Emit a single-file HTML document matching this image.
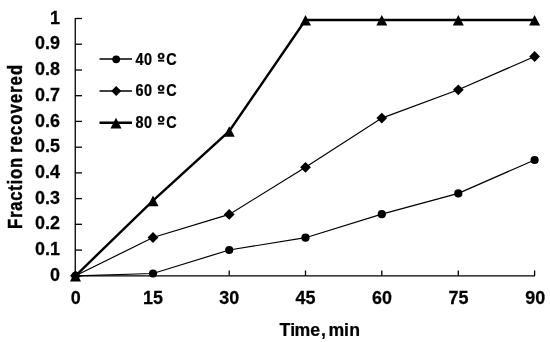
<!DOCTYPE html>
<html><head><meta charset="utf-8"><title>Fraction recovered vs time</title>
<style>
html,body{margin:0;padding:0;background:#fff;}
svg{display:block;}
text{font-family:"Liberation Sans",sans-serif;font-weight:bold;fill:#000;stroke:#000;stroke-width:0.25px;}
.tk{font-size:18.85px;}
.ti{font-size:19px;}
.lg{font-size:16px;}
</style></head><body>
<svg width="550" height="342" viewBox="0 0 550 342">
<rect width="550" height="342" fill="#fff"/>
<g stroke="#000" stroke-width="1.3" fill="none" shape-rendering="auto">
<path d="M75.25 18.0V275.8H535"/>
<path d="M75.25 18.5H82"/>
<path d="M75.25 44.2H82"/>
<path d="M75.25 70.0H82"/>
<path d="M75.25 95.7H82"/>
<path d="M75.25 121.4H82"/>
<path d="M75.25 147.2H82"/>
<path d="M75.25 172.9H82"/>
<path d="M75.25 198.6H82"/>
<path d="M75.25 224.3H82"/>
<path d="M75.25 250.1H82"/>
<path d="M75.25 275.8H82"/>
<path d="M153.0 275.8V270.5"/>
<path d="M229.2 275.8V270.5"/>
<path d="M305.5 275.8V270.5"/>
<path d="M381.8 275.8V270.5"/>
<path d="M458.3 275.8V270.5"/>
<path d="M534.6 275.8V270.5"/>
</g>
<text class="tk" transform="translate(60 23.6) scale(0.952 1)" text-anchor="end">1</text>
<text class="tk" transform="translate(60 49.3) scale(0.952 1)" text-anchor="end">0.9</text>
<text class="tk" transform="translate(60 75.1) scale(0.952 1)" text-anchor="end">0.8</text>
<text class="tk" transform="translate(60 100.8) scale(0.952 1)" text-anchor="end">0.7</text>
<text class="tk" transform="translate(60 126.5) scale(0.952 1)" text-anchor="end">0.6</text>
<text class="tk" transform="translate(60 152.2) scale(0.952 1)" text-anchor="end">0.5</text>
<text class="tk" transform="translate(60 178.0) scale(0.952 1)" text-anchor="end">0.4</text>
<text class="tk" transform="translate(60 203.7) scale(0.952 1)" text-anchor="end">0.3</text>
<text class="tk" transform="translate(60 229.4) scale(0.952 1)" text-anchor="end">0.2</text>
<text class="tk" transform="translate(60 255.2) scale(0.952 1)" text-anchor="end">0.1</text>
<text class="tk" transform="translate(60 280.9) scale(0.952 1)" text-anchor="end">0</text>
<text class="tk" transform="translate(75.7 303.5) scale(0.952 1)" text-anchor="middle">0</text>
<text class="tk" transform="translate(152.9 303.5) scale(0.952 1)" text-anchor="middle">15</text>
<text class="tk" transform="translate(229.3 303.5) scale(0.952 1)" text-anchor="middle">30</text>
<text class="tk" transform="translate(305.5 303.5) scale(0.952 1)" text-anchor="middle">45</text>
<text class="tk" transform="translate(381.9 303.5) scale(0.952 1)" text-anchor="middle">60</text>
<text class="tk" transform="translate(458.6 303.5) scale(0.952 1)" text-anchor="middle">75</text>
<text class="tk" transform="translate(535.2 303.5) scale(0.952 1)" text-anchor="middle">90</text>
<text class="ti" transform="translate(279 335.5) scale(0.93 1)" x="0.43 11.99 16.73 33.60 45.04 50.32 53.29 69.90 75.56" y="0">Time, min</text>
<text style="font-size:19.4px;stroke-width:0.45px" transform="translate(21.9 229) rotate(-90) scale(0.86 1)" x="0.10 12.82 21.24 32.90 44.55 51.88 58.14 70.86 82.71 88.37 97.13 109.14 121.14 134.20 146.20 158.20 166.96 178.96" y="0">Fraction recovered</text>
<polyline points="75.5,275.8 153.0,273.5 229.2,250.0 305.5,237.7 381.8,214.2 458.3,193.4 534.6,160.0" fill="none" stroke="#000" stroke-width="1.2"/>
<polyline points="75.5,275.8 153.0,237.5 229.2,214.4 305.5,167.3 381.8,118.1 458.3,89.8 534.6,56.5" fill="none" stroke="#000" stroke-width="1.2"/>
<polyline points="75.5,275.8 153.0,200.6 229.2,131.2 305.5,20.0 381.8,20.0 458.3,20.0 534.6,20.0" fill="none" stroke="#000" stroke-width="2.4" stroke-linejoin="miter"/>
<g fill="#000">
<circle cx="75.5" cy="275.8" r="4.1"/>
<circle cx="153.0" cy="273.5" r="4.1"/>
<circle cx="229.2" cy="250.0" r="4.1"/>
<circle cx="305.5" cy="237.7" r="4.1"/>
<circle cx="381.8" cy="214.2" r="4.1"/>
<circle cx="458.3" cy="193.4" r="4.1"/>
<circle cx="534.6" cy="160.0" r="4.1"/>
<path d="M75.5 270.4L80.9 275.8L75.5 281.2L70.1 275.8Z"/>
<path d="M153.0 232.1L158.4 237.5L153.0 242.9L147.6 237.5Z"/>
<path d="M229.2 209.0L234.6 214.4L229.2 219.8L223.8 214.4Z"/>
<path d="M305.5 161.9L310.9 167.3L305.5 172.7L300.1 167.3Z"/>
<path d="M381.8 112.7L387.2 118.1L381.8 123.5L376.4 118.1Z"/>
<path d="M458.3 84.4L463.7 89.8L458.3 95.2L452.9 89.8Z"/>
<path d="M534.6 51.1L540.0 56.5L534.6 61.9L529.2 56.5Z"/>
<path d="M75.5 270.8L81.0 281.4L70.0 281.4Z"/>
<path d="M153.0 195.6L158.5 206.2L147.5 206.2Z"/>
<path d="M229.2 126.2L234.7 136.8L223.7 136.8Z"/>
<path d="M305.5 15.0L311.0 25.6L300.0 25.6Z"/>
<path d="M381.8 15.0L387.3 25.6L376.3 25.6Z"/>
<path d="M458.3 15.0L463.8 25.6L452.8 25.6Z"/>
<path d="M534.6 15.0L540.1 25.6L529.1 25.6Z"/>
</g>
<path d="M99.5 59.0H132" stroke="#000" stroke-width="1.5" fill="none"/>
<circle cx="116.2" cy="59.3" r="3.9"/>
<text class="lg" transform="translate(135.4 64.8) scale(0.9 1)" x="0 9.67 19.3 23.9 34.2" y="0 0 0 -0.5 0">40 <tspan style="font-family:'DejaVu Sans',sans-serif;font-size:16.2px;stroke-width:0.3px">º</tspan>C</text>
<path d="M99.5 91.0H132" stroke="#000" stroke-width="1.5" fill="none"/>
<path d="M116.2 86.0L121.2 91.0L116.2 96.0L111.2 91.0Z"/>
<text class="lg" transform="translate(135.4 96.4) scale(0.9 1)" x="0 9.67 19.3 23.9 34.2" y="0 0 0 -0.5 0">60 <tspan style="font-family:'DejaVu Sans',sans-serif;font-size:16.2px;stroke-width:0.3px">º</tspan>C</text>
<path d="M99.5 122.8H132" stroke="#000" stroke-width="2.4" fill="none"/>
<path d="M116.0 117.8L121.5 128.4L110.5 128.4Z"/>
<text class="lg" transform="translate(135.4 127.5) scale(0.9 1)" x="0 9.67 19.3 23.9 34.2" y="0 0 0 -0.5 0">80 <tspan style="font-family:'DejaVu Sans',sans-serif;font-size:16.2px;stroke-width:0.3px">º</tspan>C</text>
</svg></body></html>
